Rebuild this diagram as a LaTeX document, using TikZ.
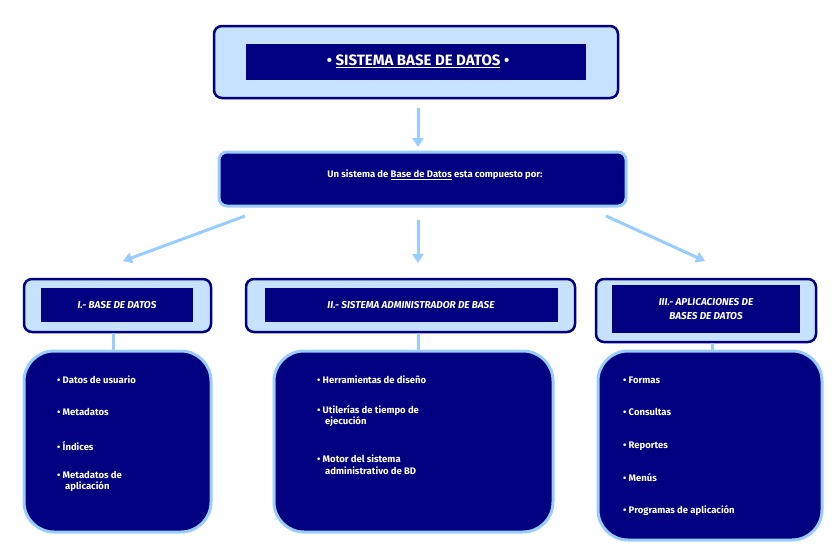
\documentclass[tikz,border=0pt]{standalone}
\usepackage{fontspec}
\setmainfont{Fira Sans}
\usetikzlibrary{arrows.meta}
\definecolor{navy}{HTML}{000080}
\definecolor{lblue}{HTML}{C6E2FF}
\definecolor{conn}{HTML}{99CCFF}
\begin{document}
\begin{tikzpicture}[x=1pt,y=-1pt,
  outerbox/.style={draw=navy,line width=2.5pt,fill=lblue,rounded corners=8pt},
  innerbox/.style={fill=navy},
  itembox/.style={draw=conn,line width=3pt,fill=navy,rounded corners=30pt},
  txt/.style={text=white,font=\bfseries\fontsize{9.5}{11.5}\selectfont,inner sep=0pt,align=left},
  htxt/.style={text=white,font=\bfseries\itshape\fontsize{10}{14}\selectfont,inner sep=0pt,align=center},
  arr/.style={draw=conn,line width=3pt,-{Triangle[length=9pt,width=11pt]}},
  ln/.style={draw=conn,line width=3pt}]
\useasboundingbox (0,0) rectangle (838,555);
\fill[white] (0,0) rectangle (838,555);
% top
\draw[outerbox] (214,26) rectangle (618,98);
\fill[innerbox] (246,44) rectangle (586,80);
\node[text=white,font=\bfseries\fontsize{15}{16}\selectfont,inner sep=0pt] (title) at (418,61) {\textbullet\ \underline{SISTEMA BASE DE DATOS}\ \textbullet};
% second
\draw[draw=conn,line width=3pt,fill=navy,rounded corners=8pt] (219,152) rectangle (626,206);
\node[txt] (subt) at (435,175) {Un sistema de \underline{Base de Datos} esta compuesto por:};
% headers
\draw[outerbox] (24,279) rectangle (211,332);
\fill[innerbox] (41,288) rectangle (193,322);
\node[htxt] (h1) at (117,305) {I.- BASE DE DATOS};
\draw[outerbox] (246,279) rectangle (575,332);
\fill[innerbox] (265,288) rectangle (558,322);
\node[htxt] (h2) at (411,305) {II.- SISTEMA ADMINISTRADOR DE BASE};
\draw[outerbox] (596,279) rectangle (816,342);
\fill[innerbox] (612,285) rectangle (800,333);
\node[htxt] (h3) at (706,309) {III.- APLICACIONES DE\\BASES DE DATOS};
% arrows
\coordinate (a0s) at (418,108); \coordinate (a0e) at (418,147);
\draw[arr] (a0s) -- (a0e);
\coordinate (a1s) at (245,216); \coordinate (a1e) at (123,261);
\coordinate (a2s) at (418,220); \coordinate (a2e) at (418,263);
\coordinate (a3s) at (606,216); \coordinate (a3e) at (705,261);
\draw[arr] (a1s) -- (a1e);
\draw[arr] (a2s) -- (a2e);
\draw[arr] (a3s) -- (a3e);
% links
\coordinate (l1a) at (113,333); \coordinate (l1b) at (113,351);
\coordinate (l2a) at (418,333); \coordinate (l2b) at (418,351);
\coordinate (l3a) at (712,343); \coordinate (l3b) at (712,351);
\draw[ln] (l1a) -- (l1b); \draw[ln] (l2a) -- (l2b); \draw[ln] (l3a) -- (l3b);
% item boxes
\draw[itembox] (24,351) rectangle (211,532);
\draw[itembox] (274,351) rectangle (553,532);
\draw[itembox] (598,351) rectangle (822,540);
% items
\node[txt,anchor=west] (i11) at (57,380) {\textbullet\ Datos de usuario};
\node[txt,anchor=west] (i12) at (57,412) {\textbullet\ Metadatos};
\node[txt,anchor=west] (i13) at (57,446) {\textbullet\ Índices};
\node[txt,anchor=north west] (i14) at (57,471) {\textbullet\ Metadatos de\\\hspace*{8pt}aplicación};
\node[txt,anchor=west] (i21) at (317,380) {\textbullet\ Herramientas de diseño};
\node[txt,anchor=north west] (i22) at (317,405) {\textbullet\ Utilerías de tiempo de\\\hspace*{8pt}ejecución};
\node[txt,anchor=north west] (i23) at (317,455) {\textbullet\ Motor del sistema\\\hspace*{8pt}administrativo de BD};
\node[txt,anchor=west] (i31) at (623,380) {\textbullet\ Formas};
\node[txt,anchor=west] (i32) at (623,412) {\textbullet\ Consultas};
\node[txt,anchor=west] (i33) at (623,446) {\textbullet\ Reportes};
\node[txt,anchor=west] (i34) at (623,478) {\textbullet\ Menús};
\node[txt,anchor=west] (i35) at (623,511) {\textbullet\ Programas de aplicación};
\end{tikzpicture}
\end{document}
